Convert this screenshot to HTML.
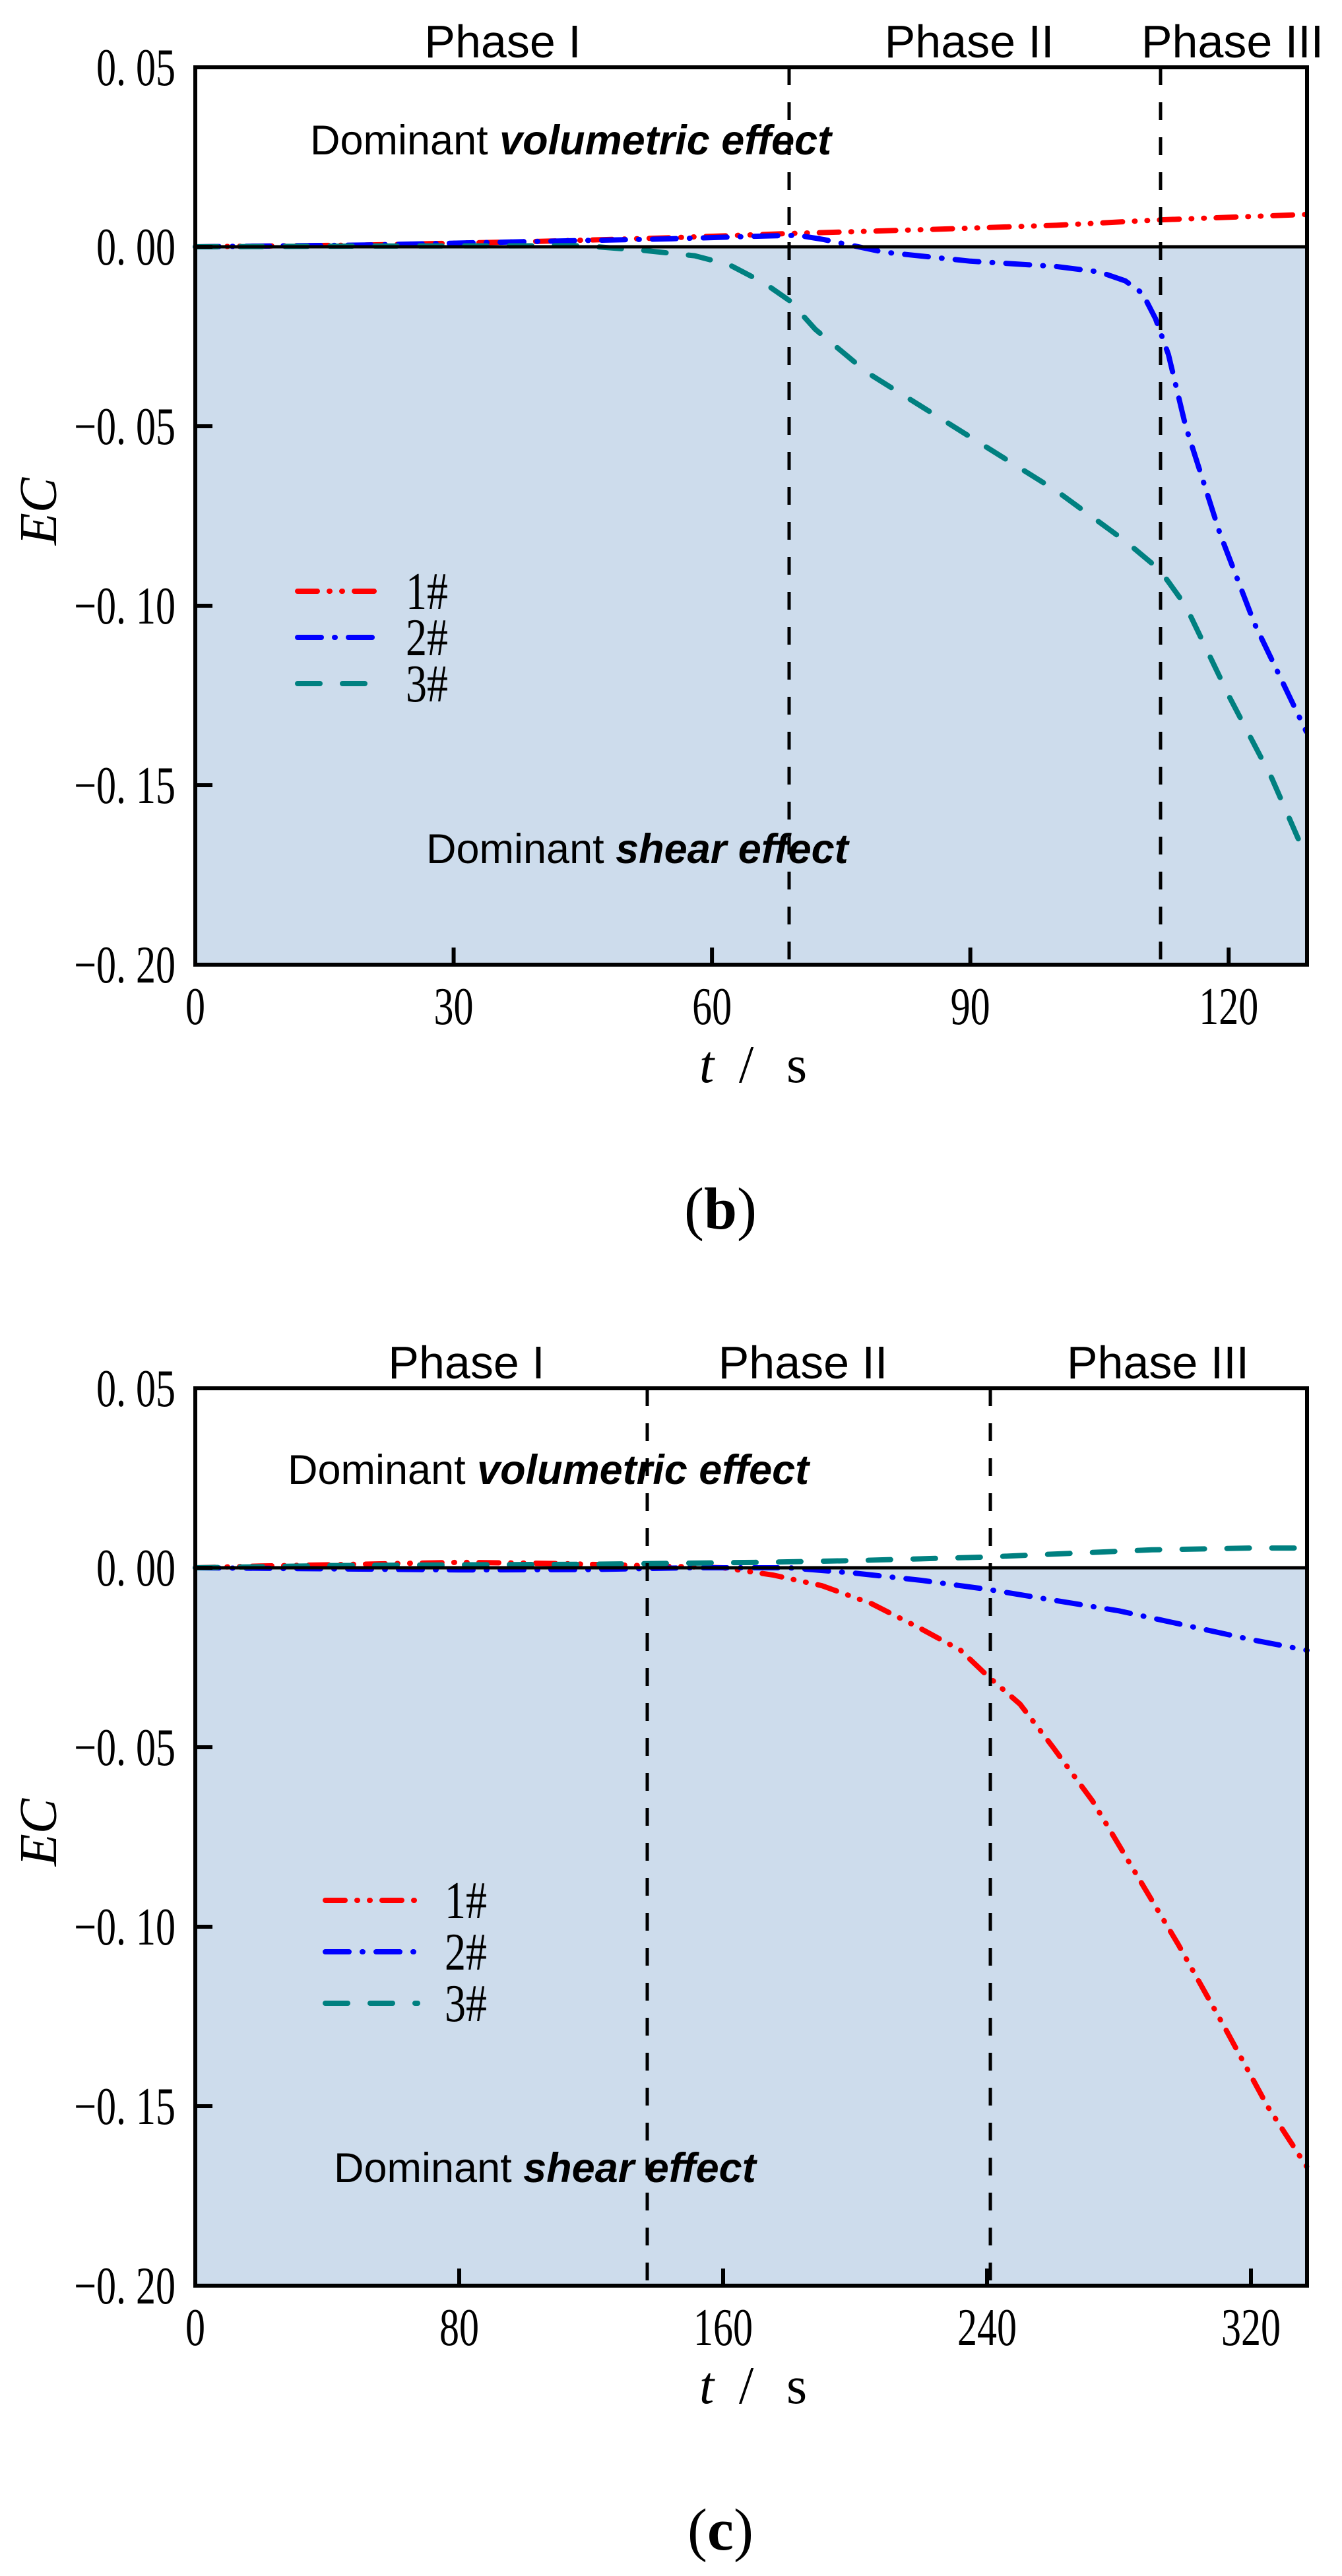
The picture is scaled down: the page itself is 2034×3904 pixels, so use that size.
<!DOCTYPE html>
<html><head><meta charset="utf-8"><style>
html,body{margin:0;padding:0;background:#fff}
svg{display:block}
.tk{font-family:"Liberation Serif",serif;font-size:80px}
.ph{font-family:"Liberation Sans",sans-serif;font-size:70px}
.dm{font-family:"Liberation Sans",sans-serif;font-size:63px}
</style></head><body>
<svg id="s" width="2034" height="3904" viewBox="0 0 2034 3904" xmlns="http://www.w3.org/2000/svg">
<rect width="2034" height="3904" fill="#fff"/>
<g id="g"></g>
</svg>
<script>
var NS="http://www.w3.org/2000/svg",G=document.getElementById('g');
function el(t,a,txt){var e=document.createElementNS(NS,t);for(var k in a)e.setAttribute(k,a[k]);if(txt!=null)e.textContent=txt;G.appendChild(e);return e;}
function sq(e,f){try{var w=e.getComputedTextLength();e.setAttribute('textLength',(w*f).toFixed(1));e.setAttribute('lengthAdjust','spacingAndGlyphs');}catch(x){}return e;}
function chart(c){
 var L=296,R=1981,T=c.top,B=c.top+1360;
 function X(v){return L+(v/c.xmax)*(R-L);}
 function Y(v){return T+(0.05-v)/0.25*(B-T);}
 var y0=Y(0);
 el('rect',{x:L,y:y0,width:R-L,height:B-y0,fill:'#cddcec'});
 var st={r:{c:'#ff0000',d:'30 18 1 18 1 18'},b:{c:'#0000ff',d:'36 20 1 20'},t:{c:'#008080',d:'34 34'}};
 c.series.forEach(function(s){
   var p=s.pts.map(function(q){return X(q[0]).toFixed(1)+','+Y(q[1]).toFixed(1)}).join(' ');
   el('polyline',{points:p,fill:'none',stroke:st[s.k].c,'stroke-width':8,'stroke-dasharray':st[s.k].d,'stroke-linecap':'round','stroke-linejoin':'round'});
 });
 el('line',{x1:L,y1:y0,x2:R,y2:y0,stroke:'#000','stroke-width':5});
 c.vl.forEach(function(v){el('line',{x1:v,y1:T,x2:v,y2:B,stroke:'#000','stroke-width':5,'stroke-dasharray':'27 26'});});
 el('rect',{x:L,y:T,width:R-L,height:B-T,fill:'none',stroke:'#000','stroke-width':6});
 var yl=['0. 05','0. 00','\u22120. 05','\u22120. 10','\u22120. 15','\u22120. 20'];
 for(var i=0;i<6;i++){var yy=T+i*(B-T)/5;
   if(i>0&&i<5)el('line',{x1:L,y1:yy,x2:L+26,y2:yy,stroke:'#000','stroke-width':6});
   sq(el('text',{x:266,y:yy+27,'text-anchor':'end','class':'tk'},yl[i]),0.75);}
 c.xt.forEach(function(v){var xx=X(v);
   if(v>0)el('line',{x1:xx,y1:B,x2:xx,y2:B-26,stroke:'#000','stroke-width':6});
   sq(el('text',{x:xx,y:B+90,'text-anchor':'middle','class':'tk'},String(v)),0.75);});
 el('text',{x:1060,y:B+178,'class':'tk','font-style':'italic'},'t');
 el('text',{x:1120,y:B+178,'class':'tk'},'/');
 el('text',{x:1192,y:B+178,'class':'tk'},'s');
 el('text',{x:0,y:0,'class':'tk','font-style':'italic','text-anchor':'middle',transform:'translate(85,'+c.ec+') rotate(-90)'},'EC');
 el('text',{x:1092,y:B+400,'text-anchor':'middle','font-family':'Liberation Serif,serif','font-size':'90'},'').innerHTML='(<tspan font-weight="bold">'+c.lab+'</tspan>)';
 c.ph.forEach(function(p){el('text',{x:p[0],y:T-15,'text-anchor':'middle','class':'ph'},p[1]);});
 el('text',{x:c.vx,y:c.vy,'class':'dm'},'').innerHTML='Dominant <tspan font-weight="bold" font-style="italic">volumetric effect</tspan>';
 el('text',{x:c.sx,y:c.sy,'class':'dm'},'').innerHTML='Dominant <tspan font-weight="bold" font-style="italic">shear effect</tspan>';
 ['r','b','t'].forEach(function(k,i){var yy=c.lg[1]+i*c.lg[4];
   el('line',{x1:c.lg[0],y1:yy,x2:c.lg[2],y2:yy,stroke:st[k].c,'stroke-width':8,'stroke-dasharray':st[k].d,'stroke-linecap':'round'});
   sq(el('text',{x:c.lg[3],y:yy+27,'class':'tk'},(i+1)+'#'),0.8);});
}
chart({top:102,xmax:129.1,vl:[1196,1759],xt:[0,30,60,90,120],ec:775,lab:'b',
 ph:[[762,'Phase I'],[1469,'Phase II'],[1868,'Phase III']],vx:470,vy:234,sx:646,sy:1308,
 lg:[451,896,584,615,70],
 series:[
 {k:'r',pts:[[0,0],[20,0.0005],[40,0.0015],[55,0.0025],[69,0.0037],[85,0.0048],[100,0.006],[112,0.0075],[129,0.009]]},
 {k:'b',pts:[[0,0],[20,0.0005],[40,0.0015],[55,0.0022],[66,0.003],[70,0.0032],[73,0.002],[76,0.0005],[80,-0.0015],[90,-0.004],[100,-0.0055],[105,-0.007],[108,-0.0095],[110,-0.013],[111.5,-0.02],[113,-0.03],[115,-0.05],[119,-0.08],[123,-0.105],[129,-0.135]]},
 {k:'t',pts:[[0,0],[20,0.0002],[45,0.0003],[52,-0.001],[58,-0.0025],[62,-0.005],[66,-0.01],[69,-0.015],[72,-0.023],[78,-0.035],[90,-0.053],[100,-0.068],[108,-0.082],[112,-0.09],[115,-0.1],[120,-0.125],[125,-0.148],[129,-0.17]]}
 ]});
chart({top:2104,xmax:337,vl:[981,1501],xt:[0,80,160,240,320],ec:2777,lab:'c',
 ph:[[707,'Phase I'],[1217,'Phase II'],[1755,'Phase III']],vx:436,vy:2249,sx:506,sy:3307,
 lg:[493,2880,633,674,78],
 series:[
 {k:'r',pts:[[0,0],[20,0.0005],[50,0.001],[80,0.0015],[110,0.0012],[140,0.0005],[160,0],[175,-0.002],[190,-0.005],[205,-0.01],[220,-0.017],[232,-0.023],[240,-0.03],[250,-0.038],[260,-0.05],[272,-0.065],[285,-0.085],[298,-0.105],[312,-0.128],[325,-0.15],[337,-0.167]]},
 {k:'b',pts:[[0,0],[40,-0.0003],[80,-0.0006],[120,-0.0005],[150,0],[180,0],[200,-0.0015],[220,-0.0035],[240,-0.006],[260,-0.009],[280,-0.012],[300,-0.016],[320,-0.02],[337,-0.023]]},
 {k:'t',pts:[[0,0],[40,0.0006],[80,0.0008],[120,0.001],[140,0.0012],[170,0.0015],[200,0.002],[240,0.003],[265,0.004],[290,0.005],[320,0.0055],[337,0.0055]]}
 ]});
</script>
</body></html>
